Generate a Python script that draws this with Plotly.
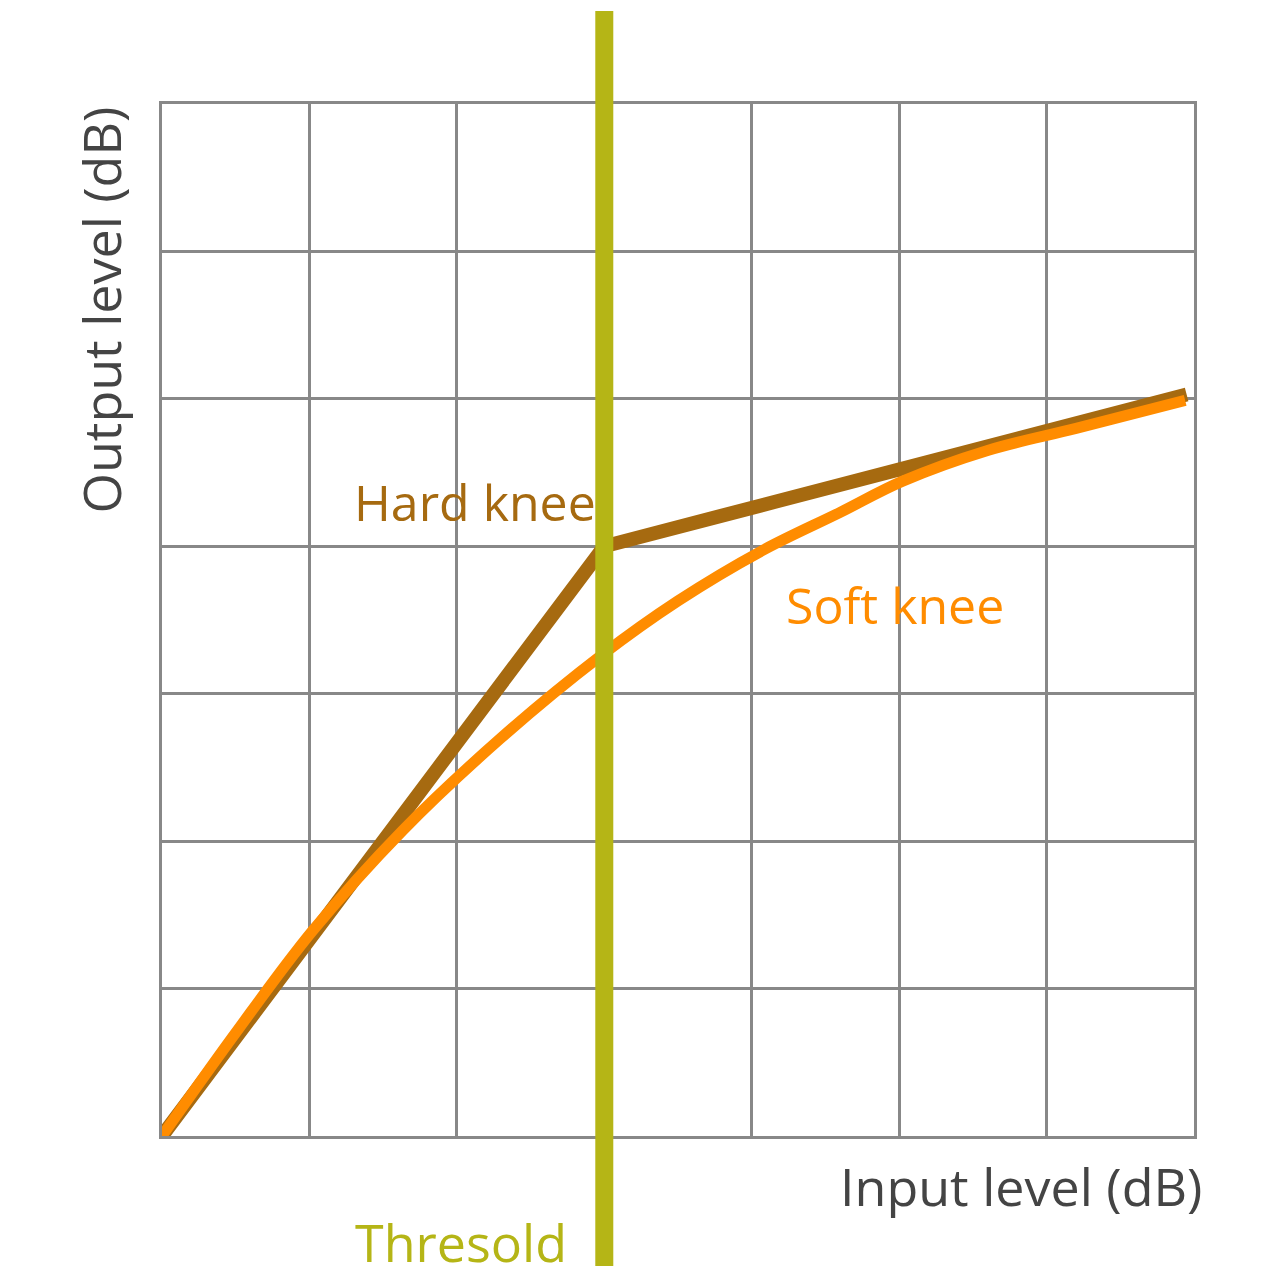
import plotly.graph_objects as go

# grid units: 7 x 7 cells
hard_x = [0, 3, 6.95]
hard_y = [0, 4, 5.03]

soft_x = [0, 0.5, 1.02, 1.63, 2.3, 2.98, 3.5, 4.07, 4.6, 5.02, 5.6, 6.2, 6.94]
soft_y = [0, 0.7, 1.39, 2.07, 2.7, 3.26, 3.63, 3.97, 4.23, 4.44, 4.65, 4.8, 4.99]

threshold_x = 3.0

fig = go.Figure()
fig.add_trace(go.Scatter(x=hard_x, y=hard_y, mode='lines',
                         line=dict(color='#a66a10', width=14), cliponaxis=False))
fig.add_trace(go.Scatter(x=soft_x, y=soft_y, mode='lines',
                         line=dict(color='#ff8c00', width=11, shape='spline'),
                         cliponaxis=False))

fig.add_shape(type='line', xref='x', yref='paper', x0=threshold_x, x1=threshold_x,
              y0=-0.126, y1=1.09, line=dict(color='#b5b516', width=18))

font = 'Open Sans'
fig.add_annotation(text='Output level (dB)', xref='paper', yref='paper', x=-0.06, y=0.8,
                   textangle=-90, showarrow=False, xanchor='center', yanchor='middle',
                   font=dict(family=font, size=52, color='#444444'))
fig.add_annotation(text='Input level (dB)', xref='paper', yref='paper', x=1.01, y=-0.048,
                   showarrow=False, xanchor='right', yanchor='middle',
                   font=dict(family=font, size=52, color='#444444'))
fig.add_annotation(text='Thresold', xref='paper', yref='paper', x=0.29, y=-0.102,
                   showarrow=False, xanchor='center', yanchor='middle',
                   font=dict(family=font, size=52, color='#b5b516'))
fig.add_annotation(text='Hard knee', x=2.12, y=4.3, showarrow=False,
                   xanchor='center', yanchor='middle',
                   font=dict(family=font, size=50, color='#a66a10'))
fig.add_annotation(text='Soft knee', x=4.97, y=3.6, showarrow=False,
                   xanchor='center', yanchor='middle',
                   font=dict(family=font, size=50, color='#ff8c00'))

axis = dict(range=[0, 7], dtick=1, showgrid=True, gridcolor='#888888', gridwidth=3,
            showline=True, linecolor='#888888', linewidth=3, mirror=True,
            showticklabels=False, zeroline=False, ticks='')
fig.update_layout(width=1280, height=1280, showlegend=False,
                  margin=dict(l=154, r=94, t=96, b=152),
                  plot_bgcolor='white', paper_bgcolor='white',
                  xaxis=axis, yaxis=axis)
fig.write_html("out.html")
